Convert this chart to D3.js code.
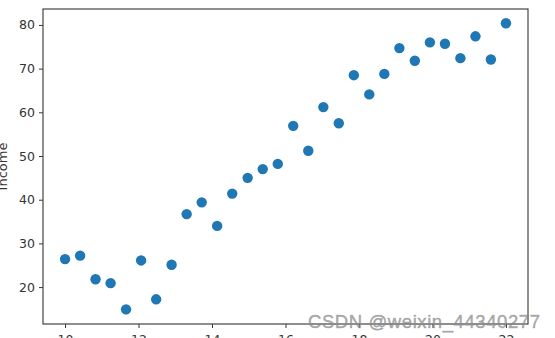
<!DOCTYPE html>
<html>
<head>
<meta charset="utf-8">
<script src="https://cdn.jsdelivr.net/npm/d3@7"></script>
<style>
  body { margin: 0; background: #fff; }
  text { font-family: "DejaVu Sans", sans-serif; }
</style>
</head>
<body>
<div id="scatter"></div>
<script>
//Chart data
var years = [10.00, 10.41, 10.83, 11.24, 11.66, 12.07, 12.48, 12.90, 13.31, 13.72,
             14.14, 14.55, 14.97, 15.38, 15.79, 16.21, 16.62, 17.03, 17.45, 17.86,
             18.28, 18.69, 19.10, 19.52, 19.93, 20.34, 20.76, 21.17, 21.59, 22.00];
var income = [26.4, 27.2, 21.8, 20.9, 14.9, 26.1, 17.2, 25.1, 36.7, 39.4,
              34.0, 41.4, 45.0, 47.0, 48.2, 56.9, 51.2, 61.2, 57.5, 68.5,
              64.1, 68.8, 74.7, 71.8, 76.0, 75.7, 72.4, 77.4, 72.1, 80.4];
var xTicks = [10, 12, 14, 16, 18, 20, 22];
var yTicks = [20, 30, 40, 50, 60, 70, 80];

//SVG size
var svgWidth = 555;
var svgHeight = 338;

//Margins
var margin = { top: 9, right: 27, bottom: 14, left: 43 };
var width = svgWidth - margin.left - margin.right;
var height = svgHeight - margin.top - margin.bottom;

var svg = d3.select("#scatter")
  .append("svg")
  .attr("width", svgWidth)
  .attr("height", svgHeight);

var chartGroup = svg.append("g")
  .attr("transform", `translate(${margin.left}, ${margin.top})`);

//Scales (matplotlib style 5% padding)
var xLinearScale = d3.scaleLinear()
  .domain([9.4, 22.6])
  .range([0, width]);

var yLinearScale = d3.scaleLinear()
  .domain([11.55, 83.65])
  .range([height, 0]);

//Axes
var bottomAxis = d3.axisBottom(xLinearScale).tickValues(xTicks).tickSize(4).tickPadding(7);
var leftAxis = d3.axisLeft(yLinearScale).tickValues(yTicks).tickSize(4).tickPadding(4);

var xAxisG = chartGroup.append("g")
  .attr("transform", `translate(0, ${height})`)
  .call(bottomAxis);
var yAxisG = chartGroup.append("g").call(leftAxis);

[xAxisG, yAxisG].forEach(function(g) {
  g.select(".domain").remove();
  g.selectAll("line").attr("stroke", "#333");
  g.selectAll("text").attr("fill", "#333").style("font-size", "12.5px");
});

//Frame
chartGroup.append("rect")
  .attr("width", width)
  .attr("height", height)
  .attr("fill", "none")
  .attr("stroke", "#444")
  .attr("stroke-width", 1.2);

//Points
chartGroup.selectAll("circle")
  .data(years)
  .enter()
  .append("circle")
  .attr("cx", d => xLinearScale(d))
  .attr("cy", (d, i) => yLinearScale(income[i]))
  .attr("r", 5.2)
  .attr("fill", "#1f77b4");

//Y label
svg.append("text")
  .attr("transform", `translate(7, ${margin.top + height / 2}) rotate(-90)`)
  .attr("text-anchor", "middle")
  .attr("fill", "#333")
  .style("font-size", "13px")
  .text("Income");

//Watermark
svg.append("text")
  .attr("x", 308)
  .attr("y", 328)
  .attr("fill", "rgba(150,150,150,0.75)")
  .attr("stroke", "rgba(110,110,110,0.5)")
  .attr("stroke-width", 0.5)
  .attr("textLength", 232)
  .style("font-size", "18.5px")
  .style("font-family", "'Liberation Sans', sans-serif")
  .text("CSDN @weixin_44340277");
</script>
</body>
</html>
